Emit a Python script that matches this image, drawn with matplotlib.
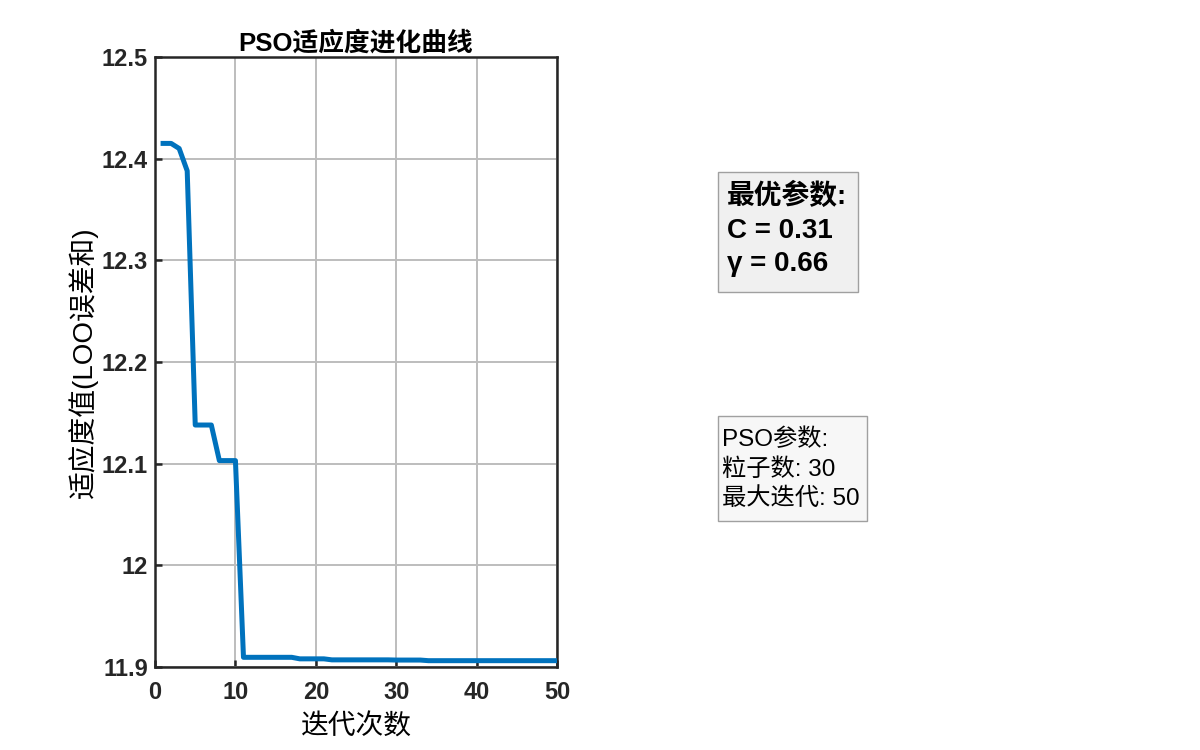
import matplotlib
matplotlib.use("Agg")
import matplotlib.pyplot as plt
from matplotlib.patches import Rectangle

iterations = list(range(1, 51))
fitness = [12.415, 12.415, 12.410, 12.388, 12.138, 12.138, 12.138, 12.103, 12.103, 12.103,
           11.9095, 11.9095, 11.9095, 11.9095, 11.9095, 11.9095, 11.9095, 11.908, 11.908, 11.908,
           11.908, 11.907, 11.907, 11.907, 11.907, 11.907, 11.907, 11.907, 11.907, 11.9068,
           11.9068, 11.9068, 11.9068, 11.9062, 11.9062, 11.9062, 11.9062, 11.9062, 11.9062, 11.9062,
           11.9062, 11.9062, 11.9062, 11.9062, 11.9062, 11.9062, 11.9062, 11.9062, 11.9062, 11.9062]
xticks = [0, 10, 20, 30, 40, 50]
yticks = [11.9, 12.0, 12.1, 12.2, 12.3, 12.4, 12.5]
ytick_labels = ["11.9", "12", "12.1", "12.2", "12.3", "12.4", "12.5"]
title = "PSO适应度进化曲线"
xlabel = "迭代次数"
ylabel = "适应度值(LOO误差和)"
best_text = "最优参数:\nC = 0.31\nγ = 0.66"
pso_text = "PSO参数:\n粒子数: 30\n最大迭代: 50"

fam = ['Liberation Sans', 'Noto Sans CJK SC', 'DejaVu Sans']
plt.rcParams['font.family'] = fam

fig = plt.figure(figsize=(12, 7.5), dpi=100)
ax = fig.add_axes([0.1292, 0.1107, 0.335, 0.8133])
ax.plot(iterations, fitness, color='#0072BD', linewidth=3.6, zorder=3)
ax.set_xlim(0, 50)
ax.set_ylim(11.9, 12.5)
ax.set_xticks(xticks)
ax.set_yticks(yticks)
ax.set_yticklabels(ytick_labels)
ax.grid(True, color='#bdbdbd', linewidth=1.4)
ax.set_axisbelow(True)
for s in ax.spines.values():
    s.set_linewidth(1.8)
    s.set_color('#262626')
ax.tick_params(direction='in', length=5, width=1.8, colors='#262626', labelsize=17, pad=5)
ax.tick_params(axis='x', pad=10)
for lbl in ax.get_xticklabels() + ax.get_yticklabels():
    lbl.set_fontweight('bold')
ax.set_title(title, fontsize=18.5, fontweight='bold', pad=5)
ax.set_xlabel(xlabel, fontsize=20, labelpad=8)
ax.set_ylabel(ylabel, fontsize=20, labelpad=3)

# annotation boxes
fig.patches.append(Rectangle((0.5983, 0.6107), 0.1167, 0.16, transform=fig.transFigure,
                             facecolor='#f0f0f0', edgecolor='#a0a0a0', linewidth=1, zorder=1))
fig.text(0.6058, 0.756, best_text, fontsize=20, fontweight='bold', ha='left', va='top',
         linespacing=1.38, zorder=2)
fig.patches.append(Rectangle((0.5983, 0.3053), 0.1242, 0.14, transform=fig.transFigure,
                             facecolor='#f7f7f7', edgecolor='#a0a0a0', linewidth=1, zorder=1))
fig.text(0.6017, 0.428, pso_text, fontsize=17.5, ha='left', va='top',
         linespacing=1.36, zorder=2)

fig.savefig('out.png', dpi=100)
